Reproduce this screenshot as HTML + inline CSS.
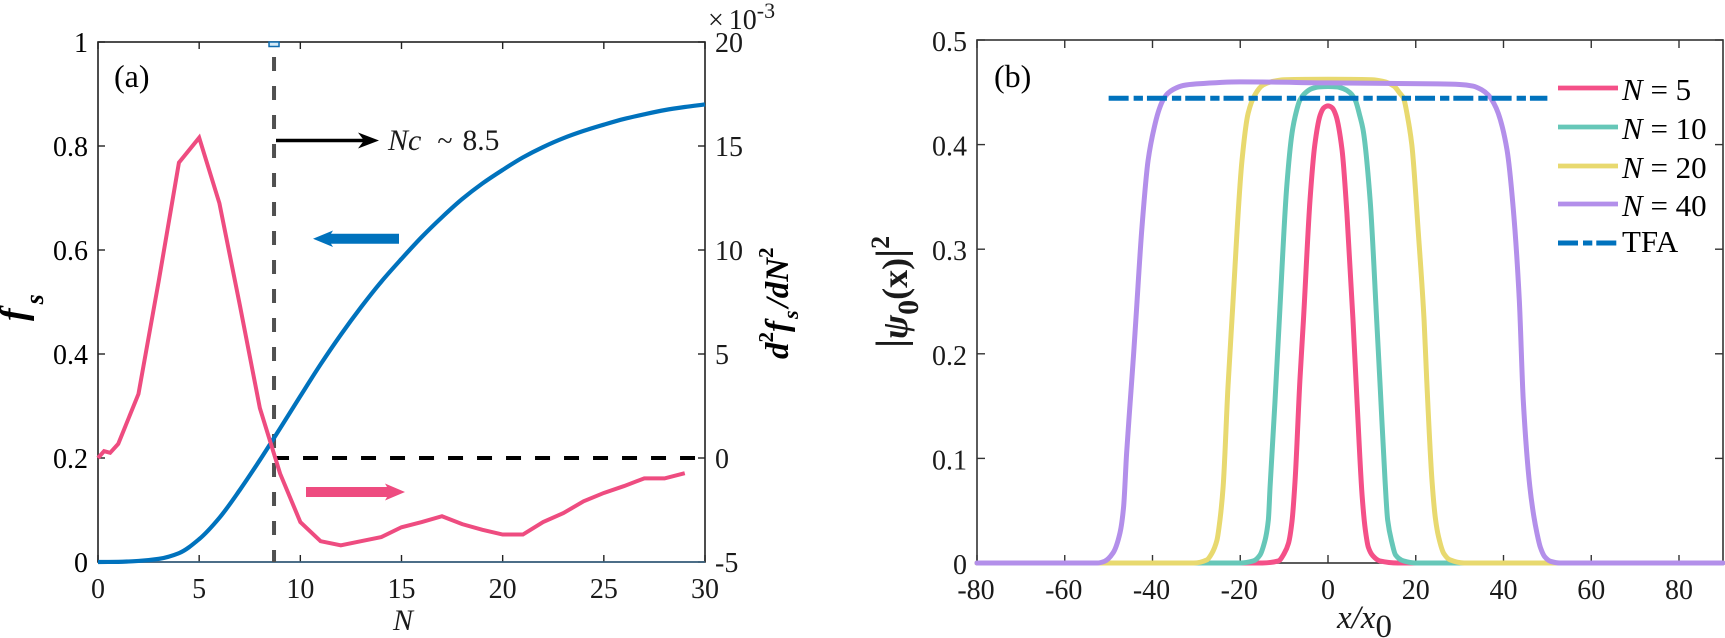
<!DOCTYPE html>
<html>
<head>
<meta charset="utf-8">
<title>Charts (a) and (b)</title>
<style>
html,body{margin:0;padding:0;background:#fff;width:1725px;height:638px;overflow:hidden}
svg{display:block}
text{font-family:"Liberation Serif",serif;fill:#1a1a1a}
.tick{font-size:28px}
.it{font-style:italic}
</style>
</head>
<body>
<svg id="figure" width="1725" height="638" viewBox="0 0 1725 638" xmlns="http://www.w3.org/2000/svg">
  <g id="panel-a"></g>
  <g id="panel-b"></g>

  <text x="114" y="87" font-size="32" style="fill:#000">(a)</text>
  <text x="994" y="87" font-size="32" style="fill:#000">(b)</text>

  <text x="403" y="630" font-size="30" text-anchor="middle" class="it">N</text>
  <text transform="translate(26,321) rotate(-90)" font-size="38" font-weight="bold" font-style="italic" style="fill:#000">f<tspan font-size="26" dx="4" dy="17">s</tspan></text>
  <text transform="translate(788,359) rotate(-90)" font-size="33" font-weight="bold" style="fill:#000"><tspan font-style="italic">d</tspan><tspan font-size="21" dy="-15">2</tspan><tspan font-style="italic" dy="15">f</tspan><tspan font-style="italic" font-size="22" dx="2" dy="10">s</tspan><tspan font-style="italic" dy="-10" dx="3">/dN</tspan><tspan font-size="21" dy="-15">2</tspan></text>
  <text x="708" y="29" font-size="28">×<tspan dx="5">10</tspan><tspan font-size="22" dy="-11">-3</tspan></text>
  <text x="388" y="150" font-size="30"><tspan font-style="italic">Nc</tspan><tspan dx="16" font-size="28">~</tspan><tspan dx="10" font-size="29.5">8.5</tspan></text>

  <line x1="276" y1="140.5" x2="372" y2="140.5" stroke="#000" stroke-width="3.6"></line>
  <polygon points="379,140.5 358,132.5 364,140.5 358,148.5" fill="#000"></polygon>
  <polygon points="313,238.7 333,230.5 331,233.7 399,233.7 399,243.7 331,243.7 333,247" fill="#0072BD"></polygon>
  <polygon points="405,492 385,483.5 387,487 306,487 306,497 387,497 385,500.5" fill="#EE4C80"></polygon>

  <text x="1337" y="628" font-size="33" font-style="italic">x/x<tspan font-size="33" font-style="normal" dy="9">0</tspan></text>
  <text transform="translate(907,348) rotate(-90)" font-size="36" font-weight="bold" style="fill:#1a1a1a"><tspan font-size="41" dy="-3">|</tspan><tspan font-style="italic" dy="3">ψ</tspan><tspan font-size="30" dy="11">0</tspan><tspan dy="-11">(x)</tspan><tspan font-size="41" dy="-3">|</tspan><tspan font-size="26" dy="-15">2</tspan></text>

  <g id="legend"></g>
</svg>

<script>
// ---------- Panel (a) data ----------
const superfluidN = [0,1,2,3,4,5,6,7,8,9,10,11,12,13,14,15,16,17,18,19,20,21,22,23,24,25,26,27,28,29,30];
const superfluidFraction = [0,0.0003,0.002,0.006,0.017,0.044,0.085,0.138,0.196,0.257,0.319,0.38,0.437,0.49,0.539,0.583,0.625,0.663,0.698,0.728,0.754,0.778,0.798,0.815,0.829,0.841,0.852,0.861,0.869,0.875,0.88];
const derivativeN = [0,0.3,0.6,1,2,3,4,5,6,7,8,9,10,11,12,13,14,15,16,17,18,19,20,21,22,23,24,25,26,27,28,29];
const derivativeValues = [0,0.33,0.25,0.68,3.08,8.5,14.2,15.4,12.25,7.4,2.4,-0.75,-3.08,-4,-4.2,-4,-3.8,-3.33,-3.08,-2.8,-3.18,-3.45,-3.68,-3.68,-3.08,-2.65,-2.08,-1.68,-1.35,-0.98,-0.98,-0.73];
const criticalN = [8.7];
const zeroLevel = [0];
const xTicksA = [0,5,10,15,20,25,30];
const yTicksLeftA = [0,0.2,0.4,0.6,0.8,1];
const yTicksRightA = [-5,0,5,10,15,20];

// ---------- Panel (b) data ----------
const xN5 = [-80,-15,-11.3,-10,-9,-8.2,-7.5,-6.4,-5.6,-4.1,-3,-1.8,-1,-0.5,0,0.5,1,1.8,3.2,4.3,5.7,6.6,7.8,8.5,9.2,10.2,11.8,16,90];
const yN5 = [0,0,0.002,0.009,0.019,0.04,0.079,0.175,0.232,0.347,0.4,0.428,0.435,0.4365,0.437,0.4365,0.435,0.428,0.395,0.335,0.232,0.156,0.063,0.032,0.015,0.007,0.002,0,0];
const xN10 = [-80,-20,-17,-15.5,-14.8,-13.6,-13.2,-12.1,-11.1,-9.4,-8.2,-7.5,-6.4,-5.1,-3.7,-2,0,2,3.5,5,6.2,7.3,8,9.6,11.1,11.9,13,13.6,14.6,15.4,17.2,20,90];
const yN10 = [0,0,0.002,0.0076,0.015,0.041,0.073,0.153,0.232,0.36,0.411,0.4267,0.4426,0.4497,0.4535,0.4552,0.4555,0.4552,0.4535,0.4497,0.4426,0.4267,0.414,0.347,0.232,0.168,0.079,0.041,0.019,0.0076,0.002,0,0];
const xN20 = [-80,-30.6,-27.6,-26.5,-25.3,-24.6,-23.9,-22.8,-21.9,-19.6,-18.2,-16.6,-14.8,-12.5,-10,0,10,12.5,15,16.4,17.2,18.2,19.1,20.6,21.9,22.5,23.7,24.5,25.2,26.4,27.8,31,90];
const yN20 = [0,0,0.003,0.009,0.022,0.042,0.073,0.168,0.232,0.385,0.43,0.448,0.457,0.4605,0.462,0.4625,0.462,0.4605,0.456,0.449,0.4445,0.425,0.4,0.315,0.232,0.175,0.079,0.042,0.025,0.009,0.003,0,0];
const xN40 = [-80,-52.6,-51,-49,-47.4,-46.6,-45.9,-45.1,-44.3,-43.8,-42.4,-41,-39.4,-38.5,-37.6,-36.5,-35.3,-33,-30,-20,0,25,30,33,35,36.5,37.8,38.8,40.8,42.2,43.6,44.5,46,46.9,47.6,48.4,49.4,50.8,52.9,90];
const yN40 = [0,0,0.0015,0.0096,0.029,0.053,0.105,0.153,0.2,0.232,0.321,0.385,0.42,0.4335,0.4426,0.449,0.4527,0.4565,0.458,0.46,0.459,0.458,0.4575,0.456,0.4525,0.4475,0.4395,0.43,0.395,0.34,0.2515,0.156,0.073,0.045,0.029,0.015,0.006,0.0015,0,0];
const tfaX = [-50,50];
const tfaY = [0.4443,0.4443];
const xTicksB = [-80,-60,-40,-20,0,20,40,60,80];
const yTicksB = [0,0.1,0.2,0.3,0.4,0.5];
const legendLabels = ["5","10","20","40"];

const NS = "http://www.w3.org/2000/svg";
function el(parent, tag, attrs, txt){
  const e = document.createElementNS(NS, tag);
  for (const k in attrs) e.setAttribute(k, attrs[k]);
  if (txt !== undefined) e.textContent = txt;
  parent.appendChild(e);
  return e;
}

// Axis functions
const A = {l:98, r:705, t:42, b:562};
const B = {l:977, r:1723, t:40, b:563};
const ax = v => A.l + (v - 0) / 30 * (A.r - A.l);
const ayL = v => A.b - v * (A.b - A.t);
const ayR = v => A.b - (v + 5) / 25 * (A.b - A.t);
const bx = v => 1328 + v * 4.3875;
const by = v => B.b - v / 0.5 * (B.b - B.t);

function linePath(xs, ys, fx, fy){
  return xs.map((x,i)=> (i? "L":"M") + fx(x).toFixed(2) + " " + fy(ys[i]).toFixed(2)).join(" ");
}
// Monotone cubic path through the data points
function smoothPath(xs, ys, fx, fy){
  const n = xs.length, px = xs.map(fx), py = ys.map(fy);
  const d = [], m = new Array(n);
  for (let i=0;i<n-1;i++) d.push((py[i+1]-py[i])/(px[i+1]-px[i]));
  m[0]=d[0]; m[n-1]=d[n-2];
  for (let i=1;i<n-1;i++){
    if (d[i-1]*d[i]<=0) m[i]=0;
    else { const w1=2*(px[i+1]-px[i])+(px[i]-px[i-1]), w2=(px[i+1]-px[i])+2*(px[i]-px[i-1]);
      m[i]=(w1+w2)/(w1/d[i-1]+w2/d[i]); }
  }
  let s = "M"+px[0].toFixed(2)+" "+py[0].toFixed(2);
  for (let i=0;i<n-1;i++){
    const h=(px[i+1]-px[i])/3;
    s += " C"+(px[i]+h).toFixed(2)+" "+(py[i]+m[i]*h).toFixed(2)+" "+(px[i+1]-h).toFixed(2)+" "+(py[i+1]-m[i+1]*h).toFixed(2)+" "+px[i+1].toFixed(2)+" "+py[i+1].toFixed(2);
  }
  return s;
}

// ---------- Panel (a) ----------
const pa = document.getElementById("panel-a");
const AXC = "#222";
const frameA = el(pa,"rect",{x:A.l,y:A.t,width:A.r-A.l,height:A.b-A.t,fill:"none",stroke:AXC,"stroke-width":1.6});



xTicksA.forEach(v=>{
  const g = el(pa,"g",{});
  
  
  el(g,"line",{x1:ax(v),x2:ax(v),y1:A.b,y2:A.b-7,stroke:AXC,"stroke-width":1.4});
  el(g,"line",{x1:ax(v),x2:ax(v),y1:A.t,y2:A.t+7,stroke:AXC,"stroke-width":1.4});
  el(g,"text",{x:ax(v),y:598,"text-anchor":"middle",class:"tick"},String(v));
});
yTicksLeftA.forEach(v=>{
  const g = el(pa,"g",{});
  
  
  el(g,"line",{x1:A.l,x2:A.l+7,y1:ayL(v),y2:ayL(v),stroke:AXC,"stroke-width":1.4});
  el(g,"text",{x:88,y:ayL(v)+10,"text-anchor":"end",class:"tick",style:"fill:#000"},String(v));
});
yTicksRightA.forEach(v=>{
  const g = el(pa,"g",{});
  
  
  el(g,"line",{x1:A.r,x2:A.r-7,y1:ayR(v),y2:ayR(v),stroke:AXC,"stroke-width":1.4});
  el(g,"text",{x:715,y:ayR(v)+10,class:"tick"},String(v));
});

const baseA = el(pa,"line",{x1:A.l,x2:A.r,y1:A.b,y2:A.b,stroke:"#3d6a8c","stroke-width":1.6});



const critMarker = el(pa,"rect",{x:ax(criticalN[0])-5,y:A.t,width:10,height:4.5,fill:"#d5ebf8",stroke:"#0f6cb0","stroke-width":1.5});



const critLine = el(pa,"line",{x1:ax(criticalN[0]),x2:ax(criticalN[0]),y1:57,y2:A.b,stroke:"#505050","stroke-width":4,"stroke-dasharray":"14 15"});



const zeroLine = el(pa,"line",{x1:ax(criticalN[0]),x2:A.r-8,y1:ayR(zeroLevel[0]),y2:ayR(zeroLevel[0]),stroke:"#000","stroke-width":4,"stroke-dasharray":"15 14"});



const fsLine = el(pa,"path",{d:smoothPath(superfluidN,superfluidFraction,ax,ayL),fill:"none",stroke:"#0072BD","stroke-width":4.2,"stroke-linejoin":"round"});



const d2Line = el(pa,"path",{d:linePath(derivativeN,derivativeValues,ax,ayR),fill:"none",stroke:"#EE4C80","stroke-width":4,"stroke-linejoin":"miter"});



// ---------- Panel (b) ----------
const pb = document.getElementById("panel-b");
const frameB = el(pb,"rect",{x:B.l,y:B.t,width:B.r-B.l,height:B.b-B.t,fill:"none",stroke:"#333","stroke-width":1.6});



xTicksB.forEach(v=>{
  const g = el(pb,"g",{});
  
  
  el(g,"line",{x1:bx(v),x2:bx(v),y1:B.b,y2:B.b-8,stroke:"#333","stroke-width":1.4});
  el(g,"line",{x1:bx(v),x2:bx(v),y1:B.t,y2:B.t+8,stroke:"#333","stroke-width":1.4});
  el(g,"text",{x:bx(v)-(v<0?1:0),y:599,"text-anchor":"middle",class:"tick"},String(v));
});
yTicksB.forEach(v=>{
  const g = el(pb,"g",{});
  
  
  el(g,"line",{x1:B.l,x2:B.l+8,y1:by(v),y2:by(v),stroke:"#333","stroke-width":1.4});
  el(g,"line",{x1:B.r,x2:B.r-8,y1:by(v),y2:by(v),stroke:"#333","stroke-width":1.4});
  el(g,"text",{x:967,y:by(v)+11,"text-anchor":"end",class:"tick"},String(v));
});

const colN5 = "#F45088", colN10 = "#66C7B8", colN20 = "#E8D96F", colN40 = "#B38FEA", colTFA = "#0072BD";

const curve5 = el(pb,"path",{d:smoothPath(xN5,yN5,bx,by),fill:"none",stroke:colN5,"stroke-width":5,"stroke-linecap":"round"});


const curve10 = el(pb,"path",{d:smoothPath(xN10,yN10,bx,by),fill:"none",stroke:colN10,"stroke-width":5,"stroke-linecap":"round"});


const curve20 = el(pb,"path",{d:smoothPath(xN20,yN20,bx,by),fill:"none",stroke:colN20,"stroke-width":5,"stroke-linecap":"round"});


const curve40 = el(pb,"path",{d:smoothPath(xN40,yN40,bx,by),fill:"none",stroke:colN40,"stroke-width":5,"stroke-linecap":"round"});


const tfa = el(pb,"path",{d:linePath(tfaX,tfaY,bx,by),fill:"none",stroke:colTFA,"stroke-width":5,"stroke-dasharray":"20 5 9.3 4"});



// ---------- Legend ----------
const lg = document.getElementById("legend");
const legendCols = [colN5,colN10,colN20,colN40];
const legendYs = [88,127,166,204];
legendLabels.forEach((lab,i)=>{
  const g = el(lg,"g",{});
  
  
  el(g,"line",{x1:1558,x2:1618,y1:legendYs[i],y2:legendYs[i],stroke:legendCols[i],"stroke-width":4.8});
  const t = el(g,"text",{x:1622,y:legendYs[i]+12,"font-size":31,style:"fill:#000"});
  el(t,"tspan",{"font-style":"italic"},"N");
  el(t,"tspan",{},"\u00a0=\u00a0"+lab);
});
const gT = el(lg,"g",{});


el(gT,"line",{x1:1558,x2:1617,y1:243,y2:243,stroke:colTFA,"stroke-width":5,"stroke-dasharray":"20 5 9.3 4"});
el(gT,"text",{x:1622,y:252,"font-size":31,style:"fill:#000"},"TFA");
</script>
</body>
</html>
